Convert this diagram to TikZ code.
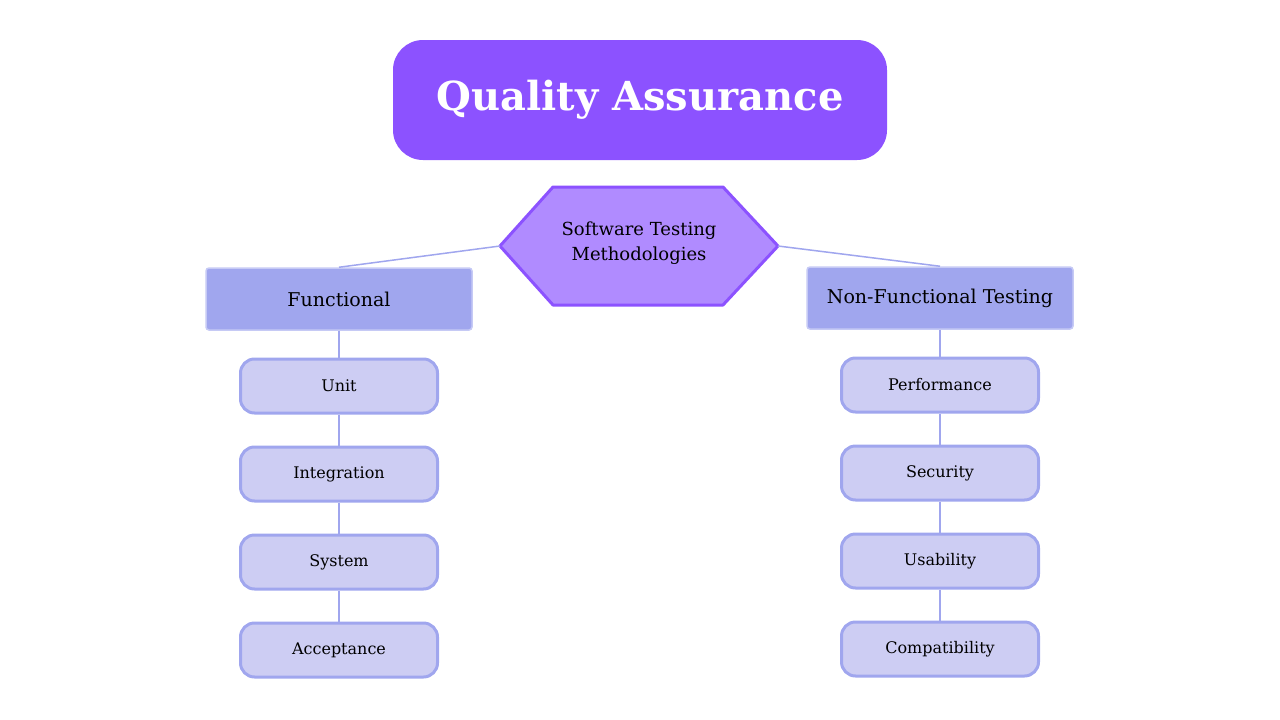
\documentclass[tikz,border=0pt]{standalone}
\usepackage{fontspec}
\setmainfont{DejaVu Serif}
\usetikzlibrary{positioning}
\definecolor{qapurple}{HTML}{8C52FF}
\definecolor{hexfill}{HTML}{B08BFF}
\definecolor{catfill}{HTML}{A0A6EE}
\definecolor{leaffill}{HTML}{CDCDF3}
\definecolor{linkcol}{HTML}{A0A6EE}

\begin{document}
\begin{tikzpicture}[x=1pt,y=-1pt]
		\tikzstyle{title}=[fill=qapurple, text=white, rounded corners=30pt, minimum width=494pt, minimum height=120pt, font=\fontsize{40}{48}\selectfont\bfseries]
		\tikzstyle{cat}=[fill=catfill, draw=catfill!60!white, line width=1.5pt, rounded corners=3pt, minimum width=266pt, minimum height=62pt, font=\fontsize{19}{23}\selectfont]
		\tikzstyle{leaf}=[fill=leaffill, draw=catfill, line width=3pt, rounded corners=14pt, minimum width=197pt, minimum height=54pt, font=\fontsize{16}{20}\selectfont]
		\tikzstyle{link}=[draw=linkcol, line width=1.5pt]

		\useasboundingbox (0,0) rectangle (1280,720);

		\node[title] (QA) at (640,100) {Quality Assurance};

		% hexagon
		\draw[fill=hexfill, draw=qapurple, line width=3pt, line join=round]
			(500,246) -- (553,187) -- (723,187) -- (778,246) -- (723,305) -- (553,305) -- cycle;
		\coordinate (hexL) at (500,246);
		\coordinate (hexR) at (778,246);
		\node[align=center, font=\fontsize{18}{25}\selectfont] (STM) at (639,243) {Software Testing\\Methodologies};

		\node[cat] (F) at (339,299) {Functional};
		\node[cat] (NF) at (940,298) {Non-Functional Testing};

		\node[leaf] (F1) at (339,386) {Unit};
		\node[leaf] (F2) at (339,474) {Integration};
		\node[leaf] (F3) at (339,562) {System};
		\node[leaf] (F4) at (339,650) {Acceptance};

		\node[leaf] (N1) at (940,385) {Performance};
		\node[leaf] (N2) at (940,473) {Security};
		\node[leaf] (N3) at (940,561) {Usability};
		\node[leaf] (N4) at (940,649) {Compatibility};

		\draw[link] (hexL) to (F.north);
		\draw[link] (hexR) to (NF.north);
		\draw[link] (F) to (F1);
		\draw[link] (F1) to (F2);
		\draw[link] (F2) to (F3);
		\draw[link] (F3) to (F4);
		\draw[link] (NF) to (N1);
		\draw[link] (N1) to (N2);
		\draw[link] (N2) to (N3);
		\draw[link] (N3) to (N4);
\end{tikzpicture}
\end{document}
